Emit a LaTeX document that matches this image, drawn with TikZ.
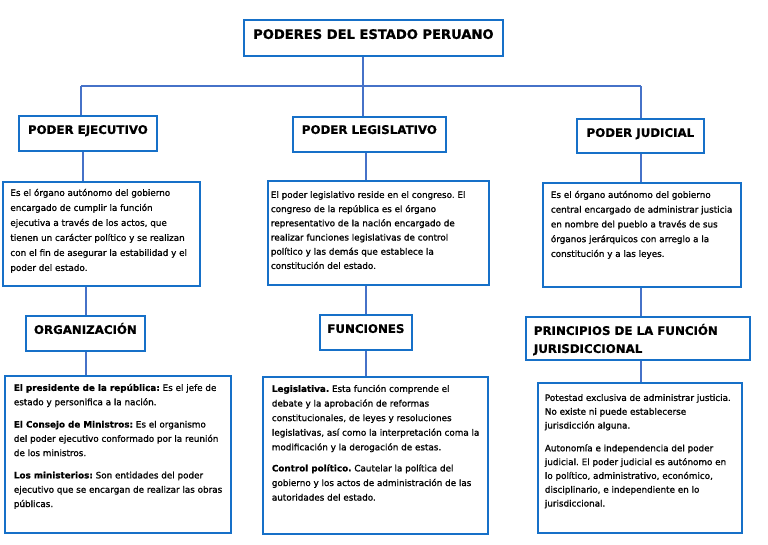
\documentclass[tikz,border=0pt]{standalone}
\usepackage{fontspec}
\setmainfont{DejaVu Sans}[UprightFeatures={FakeBold=1.2}, BoldFeatures={FakeBold=0.8}]
\frenchspacing
\definecolor{boxblue}{RGB}{22,112,200}
\definecolor{lineblue}{RGB}{70,114,200}
% #1 width, #2 height, #3 left pad, #4 first baseline offset, #5 baselineskip, #6 text
\newcommand\bodybox[6]{\parbox[c][#2pt][t]{#1pt}{\fontsize{8.8}{#5}\selectfont\frenchspacing\raggedright\leftskip=#3pt\relax\vspace*{\dimexpr#4pt-\ht\strutbox\relax}\strut #6}}
\newcommand\headbox[6]{\parbox[c][#2pt][t]{#1pt}{\fontsize{11.8}{#5}\selectfont\bfseries\raggedright\leftskip=#3pt\relax\vspace*{\dimexpr#4pt-\ht\strutbox\relax}\strut #6}}
\tikzset{
  boxbase/.style={draw=boxblue, line width=1.8pt, fill=white, inner sep=0pt, anchor=north west},
  hdr/.style={boxbase, font=\fontsize{11.8}{14}\selectfont\bfseries, align=center},
  conn/.style={draw=lineblue, line width=1.8pt},
}
\begin{document}
\begin{tikzpicture}[x=1pt,y=-1pt]
\path[use as bounding box, fill=white] (0,0) rectangle (768,544);

% title
\node[hdr, font=\fontsize{13.1}{16}\selectfont\bfseries, minimum width=259pt, text height=19pt, text depth=17pt] (title) at (243,19) {PODERES DEL ESTADO PERUANO};

% headers
\node[hdr, minimum width=138pt, text height=18pt, text depth=17pt] (exh) at (18,115) {PODER EJECUTIVO};
\node[hdr, minimum width=153pt, text height=17pt, text depth=18pt] (lgh) at (292,116) {PODER LEGISLATIVO};
\node[hdr, minimum width=127pt, text height=18pt, text depth=16pt] (jdh) at (576,118) {PODER JUDICIAL};

% descriptions
\node[boxbase] (exd) at (2,181) {\bodybox{197}{104}{7.5}{14}{15}{Es el órgano autónomo del gobierno\\
encargado de cumplir la función\\
ejecutiva a través de los actos, que\\
tienen un carácter político y se realizan\\
con el fin de asegurar la estabilidad y el\\
poder del estado.}};
\node[boxbase] (lgd) at (267,180) {\bodybox{221}{104}{3}{17}{14.2}{El poder legislativo reside en el congreso. El\\
congreso de la república es el órgano\\
representativo de la nación encargado de\\
realizar funciones legislativas de control\\
político y las demás que establece la\\
constitución del estado.}};
\node[boxbase] (jdd) at (542,182) {\bodybox{198}{104}{8}{15}{14.75}{Es el órgano autónomo del gobierno\\
central encargado de administrar justicia\\
en nombre del pueblo a través de sus\\
órganos jerárquicos con arreglo a la\\
constitución y a las leyes.}};

% sub headers
\node[hdr, minimum width=119pt, text height=18pt, text depth=17pt] (orh) at (25,315) {ORGANIZACIÓN};
\node[hdr, minimum width=92pt, text height=18pt, text depth=17pt] (fnh) at (319,314) {FUNCIONES};
\node[boxbase] (prh) at (525,316) {\headbox{224}{43}{8}{18}{18}{PRINCIPIOS DE LA FUNCIÓN\\JURISDICCIONAL}};

% lists
\node[boxbase] (ord) at (4,375) {\bodybox{226}{157}{9}{15}{14.3}{\textbf{El presidente de la república:} Es el jefe de\\
estado y personifica a la nación.\\[8pt]
\textbf{El Consejo de Ministros:} Es el organismo\\
del poder ejecutivo conformado por la reunión\\
de los ministros.\\[8pt]
\textbf{Los ministerios:} Son entidades del poder\\
ejecutivo que se encargan de realizar las obras\\
públicas.}};
\node[boxbase] (fnd) at (262,376) {\bodybox{225}{157}{9}{15}{14.6}{\textbf{Legislativa.} Esta función comprende el\\
debate y la aprobación de reformas\\
constitucionales, de leyes y resoluciones\\
legislativas, así como la interpretación coma la\\
modificación y la derogación de estas.\\[6.5pt]
\textbf{Control político.} Cautelar la política del\\
gobierno y los actos de administración de las\\
autoridades del estado.}};
\node[boxbase] (prd) at (537,382) {\bodybox{204}{150}{7}{18}{13.8}{Potestad exclusiva de administrar justicia.\\
No existe ni puede establecerse\\
jurisdicción alguna.\\[9pt]
Autonomía e independencia del poder\\
judicial. El poder judicial es autónomo en\\
lo político, administrativo, económico,\\
disciplinario, e independiente en lo\\
jurisdiccional.}};

% connectors
\coordinate (hL) at (81,86);
\coordinate (hM) at (363,86);
\coordinate (hR) at (641,86);
\coordinate (cE) at (83,0);
\coordinate (cO) at (86,0);
\coordinate (cM) at (366,0);
\draw[conn] (hL) -- (hR);
\draw[conn] (title.south -| hM) -- (hM);
\draw[conn] (hL) -- (hL |- exh.north);
\draw[conn] (hM) -- (hM |- lgh.north);
\draw[conn] (hR) -- (hR |- jdh.north);

\draw[conn] (exh.south -| cE) -- (exd.north -| cE);
\draw[conn] (exd.south -| cO) -- (orh.north -| cO);
\draw[conn] (orh.south -| cO) -- (ord.north -| cO);

\draw[conn] (lgh.south -| cM) -- (lgd.north -| cM);
\draw[conn] (lgd.south -| cM) -- (fnh.north -| cM);
\draw[conn] (fnh.south -| cM) -- (fnd.north -| cM);

\draw[conn] (jdh.south -| hR) -- (jdd.north -| hR);
\draw[conn] (jdd.south -| hR) -- (prh.north -| hR);
\draw[conn] (prh.south -| hR) -- (prd.north -| hR);
\end{tikzpicture}
\end{document}
